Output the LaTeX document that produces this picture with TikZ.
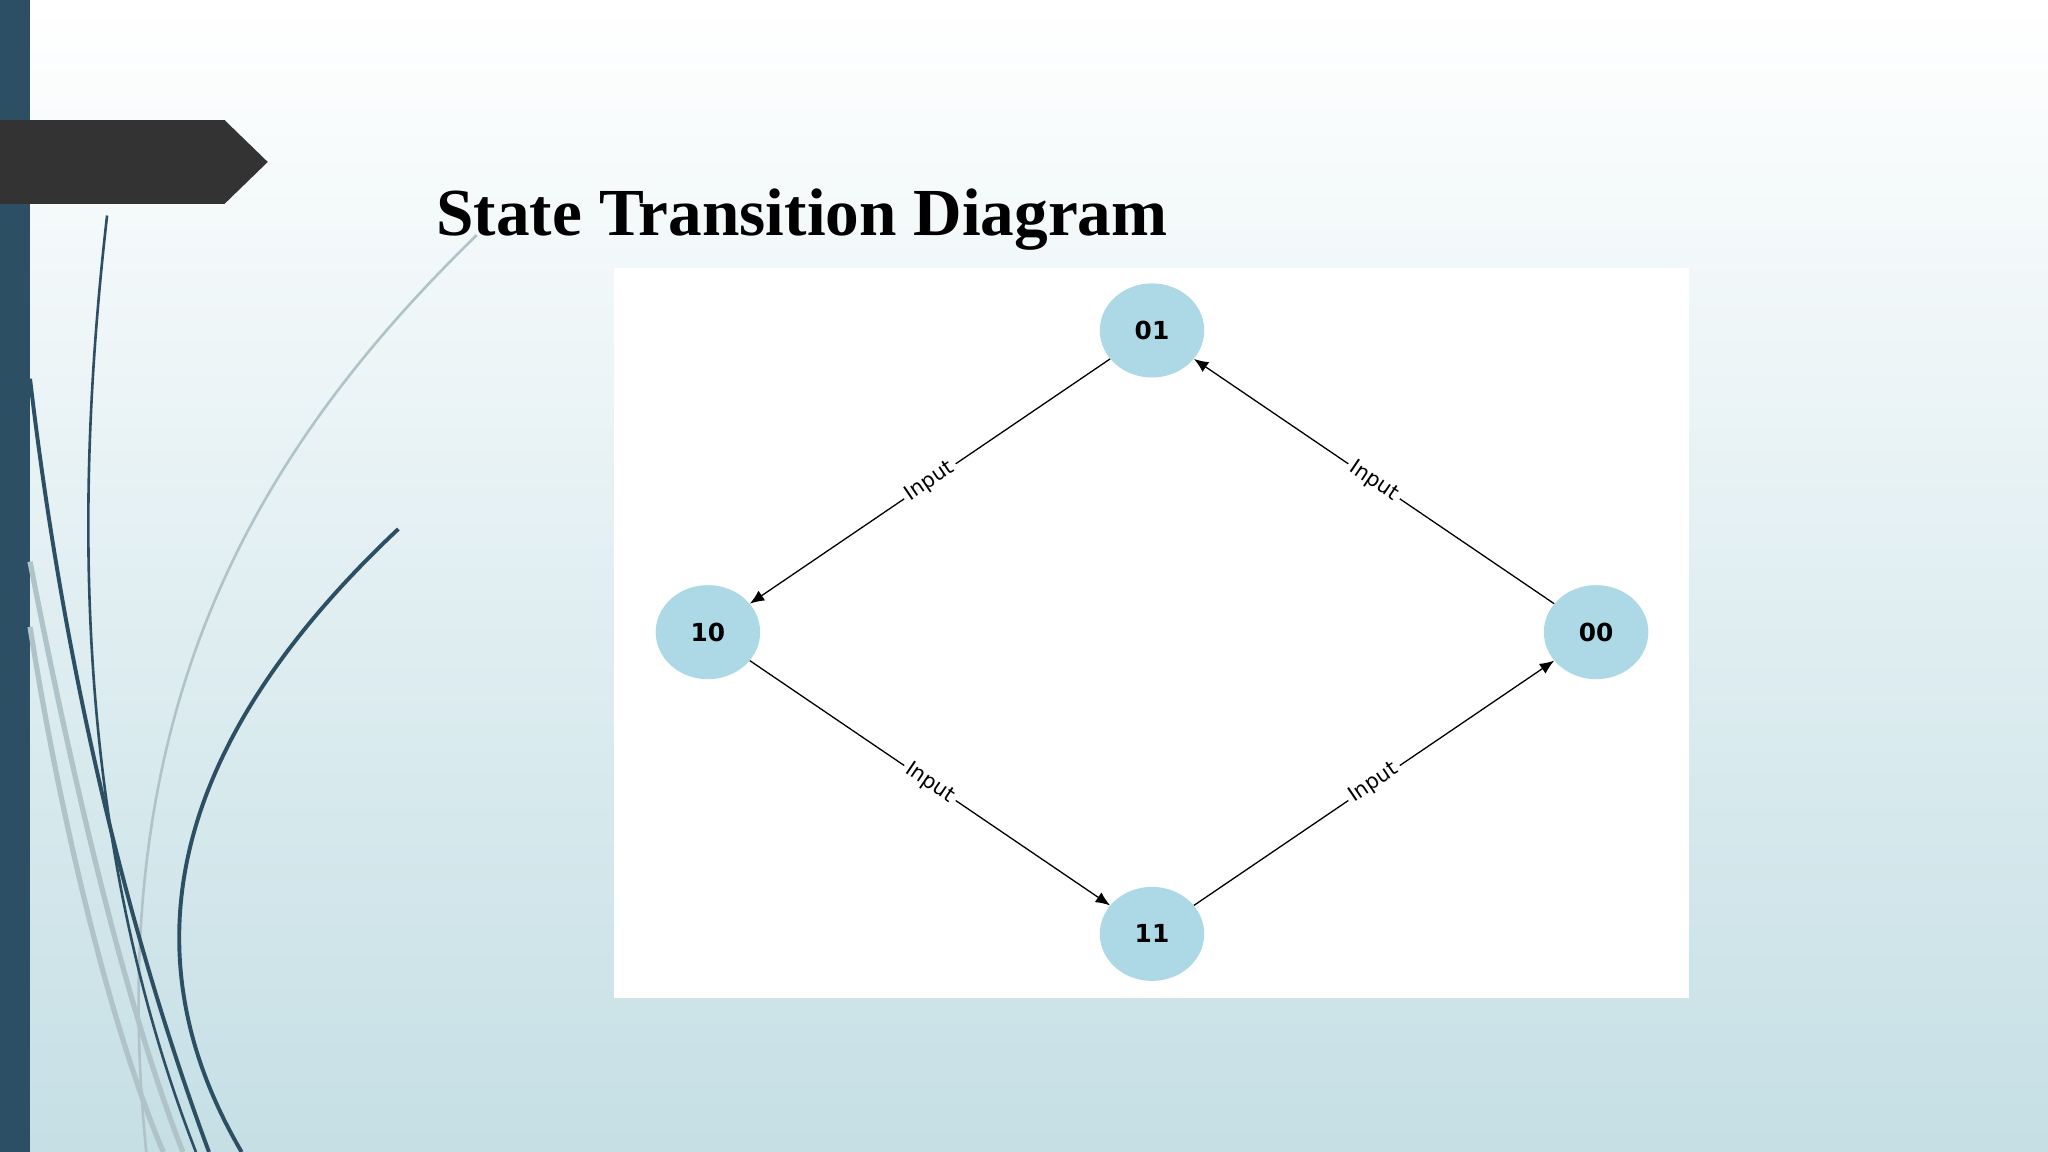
\documentclass[tikz,border=0pt]{standalone}
\usepackage{fontspec}
\setmainfont{Liberation Serif}
\newfontfamily\djv{DejaVu Sans}
\usetikzlibrary{shapes.geometric,arrows.meta}
\definecolor{bgtop}{HTML}{FFFFFF}
\definecolor{bgbot}{HTML}{C5DFE5}
\definecolor{barc}{HTML}{2D4F63}
\definecolor{greyc}{HTML}{AFC3C9}
\definecolor{banner}{HTML}{333333}
\definecolor{nodec}{HTML}{ADD8E6}
\begin{document}
\begin{tikzpicture}[x=1pt,y=-1pt,
  state/.style={ellipse,fill=nodec,minimum width=80pt,minimum height=72pt,inner sep=0pt,font=\djv\bfseries\fontsize{19}{19}\selectfont},
  edge/.style={-{Latex[length=11pt,width=9pt]},line width=1pt},
  lbl/.style={sloped,fill=white,inner sep=3pt,font=\djv\fontsize{16}{16}\selectfont}]
\useasboundingbox (0,0) rectangle (1568,882);
\shade[top color=bgtop,bottom color=bgbot] (0,0) rectangle (1568,882);
\fill[barc] (0,0) rectangle (23,882);
% decorative curves
\draw[greyc,line width=2pt] (365,180) .. controls (180,360) and (80,560) .. (112,882);
\draw[greyc,line width=4pt] (23,430) .. controls (60,620) and (100,780) .. (140,882);
\draw[greyc,line width=4pt] (23,480) .. controls (50,650) and (90,800) .. (125,882);
\draw[barc,line width=2pt] (82,165) .. controls (55,400) and (60,650) .. (150,882);
\draw[barc,line width=3pt] (23,290) .. controls (50,520) and (100,720) .. (160,882);
\draw[barc,line width=3pt] (305,405) .. controls (140,560) and (90,720) .. (185,882);
\fill[banner] (0,92) -- (172,92) -- (205,124) -- (172,156) -- (0,156) -- cycle;
\node[anchor=base west,font=\bfseries\fontsize{51.5}{52}\selectfont,inner sep=0pt] (title) at (334,180) {State Transition Diagram};
\fill[white] (470,205) rectangle (1293,764);
\node[state] (n01) at (882,253) {01};
\node[state] (n10) at (542,484) {10};
\node[state] (n00) at (1222,484) {00};
\node[state] (n11) at (882,715) {11};
\draw[edge] (n00) -- node[lbl]{Input} (n01);
\draw[edge] (n01) -- node[lbl]{Input} (n10);
\draw[edge] (n10) -- node[lbl]{Input} (n11);
\draw[edge] (n11) -- node[lbl]{Input} (n00);
\end{tikzpicture}
\end{document}
